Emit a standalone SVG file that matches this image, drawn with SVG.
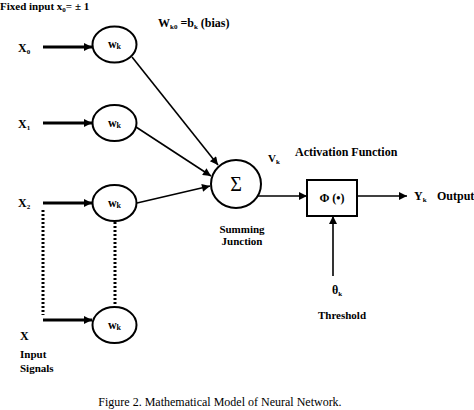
<svg xmlns="http://www.w3.org/2000/svg" width="474" height="410" viewBox="0 0 474 410">
<style>
text{font-family:"Liberation Serif","Times New Roman",serif;fill:#000}
.node{fill:#fff;stroke:#000;stroke-width:2}
.ln{stroke:#000;stroke-width:1.6;fill:none}
.thick{stroke:#000;stroke-width:3;fill:none}
.dot{stroke:#000;stroke-width:3;stroke-dasharray:2,2;fill:none}
</style>
<defs>
<marker id="ah" viewBox="0 0 10 10" refX="10" refY="5" markerWidth="10" markerHeight="8" markerUnits="userSpaceOnUse" orient="auto">
<path d="M0,0 L10,5 L0,10 z" fill="#000"/>
</marker>
</defs>
<rect width="474" height="410" fill="#fff"/>
<g font-weight="bold" font-size="12">
<text x="0" y="10" font-size="11">Fixed input x<tspan font-size="7" dy="2">0</tspan><tspan dy="-2">= ± 1</tspan></text>
<text x="158" y="27">W<tspan font-size="7" dy="2">k0</tspan><tspan dy="-2"> =b</tspan><tspan font-size="7" dy="2">k</tspan><tspan dy="-2"> (bias)</tspan></text>
</g>
<g id="connectors">
<line class="thick" x1="43" y1="47" x2="92" y2="47" marker-end="url(#ah)"/>
<line class="thick" x1="43" y1="123" x2="92" y2="123" marker-end="url(#ah)"/>
<line class="thick" x1="43" y1="203" x2="92" y2="203" marker-end="url(#ah)"/>
<line class="thick" x1="43" y1="320" x2="92" y2="320" marker-end="url(#ah)"/>
<line class="dot" x1="43" y1="210" x2="43" y2="315"/>
<line class="dot" x1="115" y1="222" x2="115" y2="306"/>
<line class="ln" x1="132" y1="57" x2="218" y2="165" marker-end="url(#ah)"/>
<line class="ln" x1="136" y1="127" x2="211" y2="176" marker-end="url(#ah)"/>
<line class="ln" x1="137" y1="203" x2="210" y2="186" marker-end="url(#ah)"/>
<line class="ln" x1="255" y1="196" x2="307" y2="196" marker-end="url(#ah)"/>
<line class="ln" x1="357" y1="196" x2="407" y2="196" marker-end="url(#ah)"/>
<line class="ln" x1="333" y1="276" x2="333" y2="216" marker-end="url(#ah)"/>
</g>
<g font-weight="bold" font-size="12">
<g id="x0"><text x="18" y="52">X<tspan font-size="7" dy="2">0</tspan></text></g>
<g id="x1"><text x="18" y="128">X<tspan font-size="7" dy="2">1</tspan></text></g>
<g id="x2"><text x="18" y="207">X<tspan font-size="7" dy="2">2</tspan></text></g>
<g id="xn"><text x="20" y="340">X</text></g>
<g id="w0"><ellipse class="node" cx="114.5" cy="44.5" rx="22" ry="18"/><text x="114.5" y="48" text-anchor="middle">w<tspan font-size="8" dy="1">k</tspan></text></g>
<g id="w1"><ellipse class="node" cx="114.5" cy="123" rx="22" ry="18"/><text x="114.5" y="126.5" text-anchor="middle">w<tspan font-size="8" dy="1">k</tspan></text></g>
<g id="w2"><ellipse class="node" cx="114.5" cy="203" rx="22" ry="18"/><text x="114.5" y="206.5" text-anchor="middle">w<tspan font-size="8" dy="1">k</tspan></text></g>
<g id="wn"><ellipse class="node" cx="114.5" cy="325" rx="22" ry="18"/><text x="114.5" y="328.5" text-anchor="middle">w<tspan font-size="8" dy="1">k</tspan></text></g>
<g id="sum"><ellipse class="node" cx="236" cy="184" rx="25" ry="24"/><text x="236" y="191" text-anchor="middle" font-size="20" font-weight="normal">Σ</text></g>
<text x="268" y="162" font-size="11">V<tspan font-size="7" dy="2">k</tspan></text>
<text x="295" y="156">Activation Function</text>
<text x="242" y="233" font-size="11" text-anchor="middle">Summing</text>
<text x="242" y="245" font-size="11" text-anchor="middle">Junction</text>
<g id="act"><rect class="node" x="307" y="180" width="50" height="36"/><text x="332" y="202" text-anchor="middle">Φ (•)</text></g>
<text x="414" y="200">Y<tspan font-size="7" dy="2">k</tspan></text>
<text x="437" y="200">Output</text>
<text x="337" y="294" text-anchor="middle">θ<tspan font-size="7" dy="2">k</tspan></text>
<text x="342" y="319" font-size="11" text-anchor="middle">Threshold</text>
<text x="20" y="358" font-size="11">Input</text>
<text x="20" y="372" font-size="11">Signals</text>
</g>
<text x="220" y="406" text-anchor="middle" font-size="12">Figure 2. Mathematical Model of Neural Network.</text>
</svg>
